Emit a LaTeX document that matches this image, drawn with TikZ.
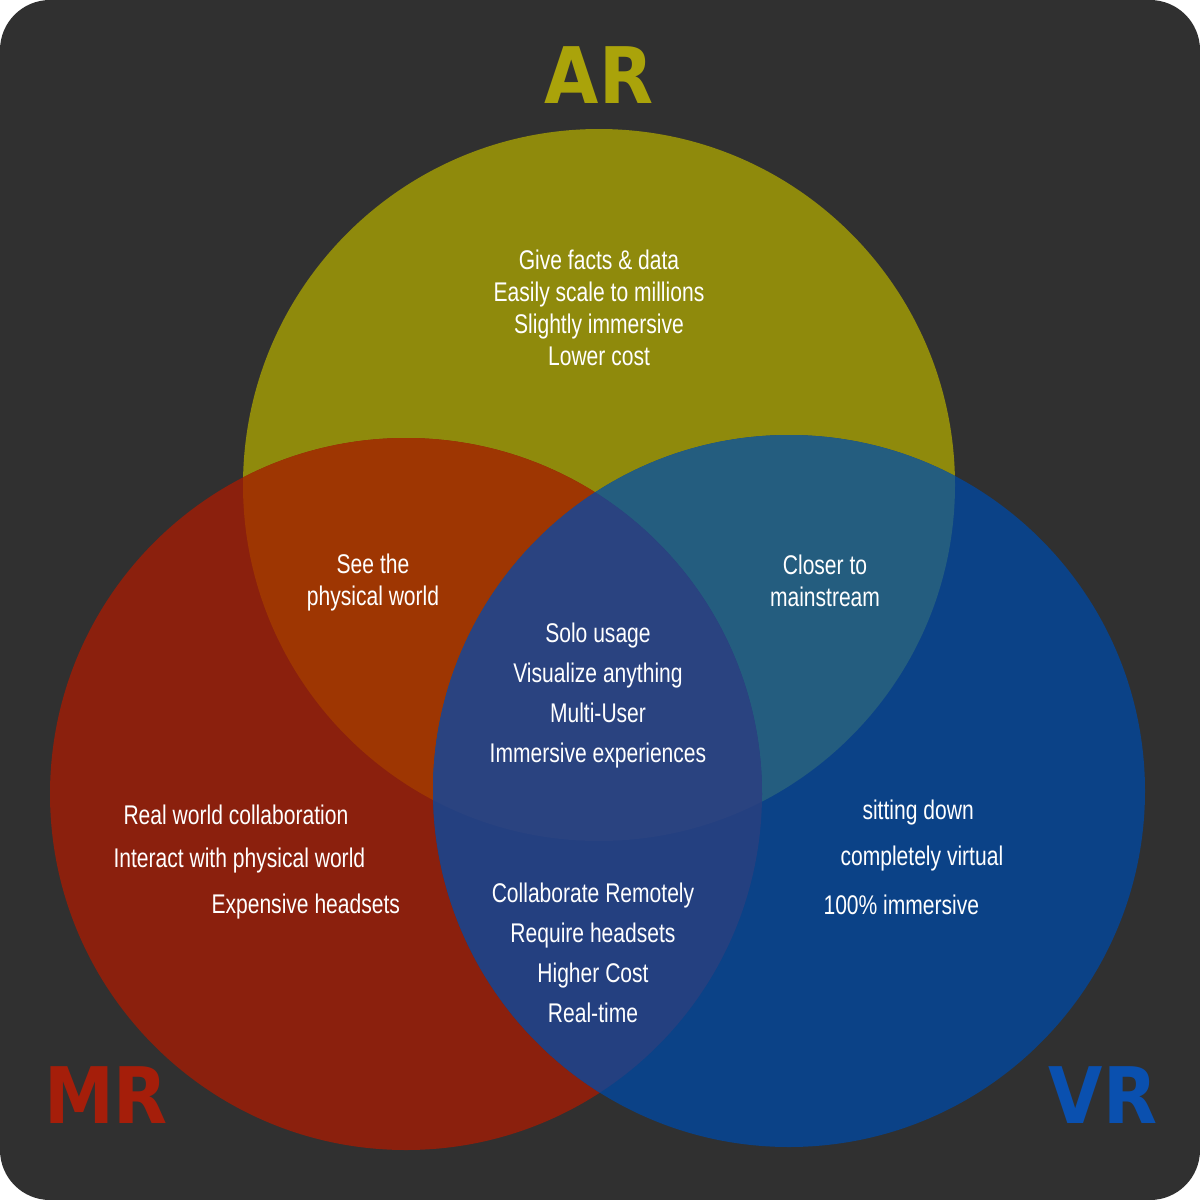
\documentclass[tikz,border=0pt]{standalone}
\usepackage{fontspec}
\setmainfont{Liberation Sans}[FakeStretch=0.78]
\newfontfamily\headfont{DejaVu Sans}[FakeStretch=0.9]
\usepackage{tikz}

\definecolor{bgdark}{RGB}{48,48,48}
\definecolor{arfill}{RGB}{143,138,12}
\definecolor{mrfill}{RGB}{139,32,13}
\definecolor{vrfill}{RGB}{11,66,135}
\definecolor{armr}{RGB}{158,54,2}
\definecolor{arvr}{RGB}{36,93,127}
\definecolor{mrvr}{RGB}{36,64,128}
\definecolor{allthree}{RGB}{42,67,128}
\definecolor{artext}{RGB}{170,163,10}
\definecolor{mrtext}{RGB}{165,30,10}
\definecolor{vrtext}{RGB}{10,80,175}

\tikzset{
  info/.style={text=white, align=center, font=\fontsize{27}{32}\selectfont},
  wide/.style={info, font=\fontsize{27}{40}\selectfont},
  head/.style={font=\headfont\bfseries\fontsize{78}{78}\selectfont}
}

\begin{document}
\begin{tikzpicture}[x=1pt, y=-1pt]
    % Background
    \fill[white] (0,0) rectangle (1200,1200);
    \fill[bgdark, rounded corners=50pt] (0,0) rectangle (1200,1200);

    % Circles
    \def\rad{356}
    \fill[arfill] (599,485) circle (\rad);
    \fill[mrfill] (406,794) circle (\rad);
    \fill[vrfill] (789,791) circle (\rad);
    \begin{scope}
        \clip (599,485) circle (\rad);
        \fill[armr] (406,794) circle (\rad);
        \fill[arvr] (789,791) circle (\rad);
    \end{scope}
    \begin{scope}
        \clip (406,794) circle (\rad);
        \fill[mrvr] (789,791) circle (\rad);
        \clip (599,485) circle (\rad);
        \fill[allthree] (789,791) circle (\rad);
    \end{scope}

    % Titles
    \node[head, text=artext] (ar) at (599,75) {AR};
    \node[head, text=mrtext] (mr) at (106,1095) {MR};
    \node[head, text=vrtext] (vr) at (1103,1095) {VR};

    % Region texts
    \node[info] (arOnly) at (599,308) {Give facts \& data\\Easily scale to millions\\Slightly immersive\\Lower cost};
    \node[info] (seeWorld) at (373,583) {See the\\physical world};
    \node[info] (closer) at (825,581) {Closer to\\mainstream};
    \node[wide] (center) at (598,696) {Solo usage\\Visualize anything\\Multi-User\\Immersive experiences};
    \node[wide] (mrvrText) at (593,953) {Collaborate Remotely\\Require headsets\\Higher Cost\\Real-time};
    \node[info, anchor=west] at (120,815) {Real world collaboration};
    \node[info, anchor=west] at (110,861) {Interact with physical world};
    \node[info, anchor=west] at (208,907) {Expensive headsets};
    \node[info, anchor=west] at (859,813) {sitting down};
    \node[info, anchor=west] at (837,859) {completely virtual};
    \node[info, anchor=west] at (820,905) {100\% immersive};
\end{tikzpicture}
\end{document}
